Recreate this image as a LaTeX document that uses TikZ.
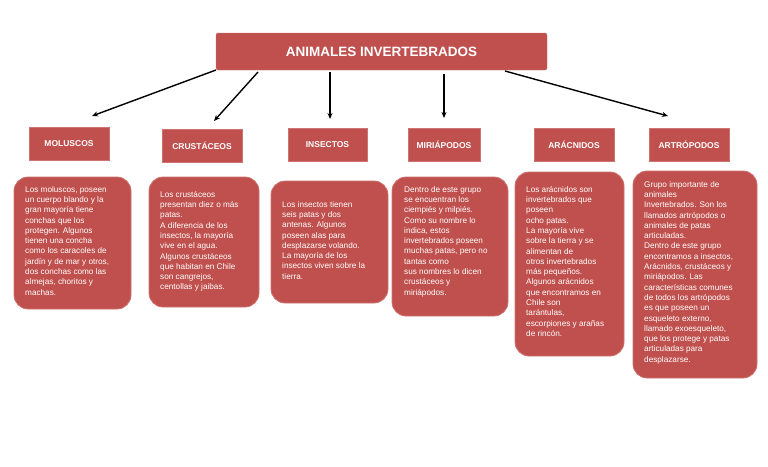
\documentclass[tikz,border=0pt]{standalone}
\usepackage{fontspec}
\setmainfont{Liberation Sans}
\usetikzlibrary{arrows.meta}
\definecolor{rbox}{HTML}{C0504D}
\begin{document}
\begin{tikzpicture}[x=1pt,y=-1pt,
  hdr/.style={fill=rbox,draw=rbox!80!white,line width=0.8pt,text=white,font=\bfseries\fontsize{8.5}{10}\selectfont,inner sep=0pt},
  body/.style={fill=rbox,draw=rbox!80!white,line width=0.8pt,rounded corners=14pt,text=white,font=\fontsize{8.2}{10.3}\selectfont,inner sep=0pt},
  arr/.style={-{Stealth[length=6pt,width=5pt]},line width=1.4pt}]
\useasboundingbox (0,0) rectangle (768,466);
\node[fill=rbox,draw=rbox!80!white,rounded corners=2pt,text=white,font=\bfseries\fontsize{13.5}{16}\selectfont,minimum width=331pt,minimum height=37pt] (title) at (381.5,51.5) {ANIMALES INVERTEBRADOS};
\node[hdr,minimum width=80pt,minimum height=33pt] (h1) at (69,143.5) {MOLUSCOS};
\node[hdr,minimum width=80pt,minimum height=33pt] (h2) at (202,145.5) {CRUSTÁCEOS};
\node[hdr,minimum width=79pt,minimum height=33pt] (h3) at (327.5,144.5) {INSECTOS};
\node[hdr,minimum width=72pt,minimum height=33pt] (h4) at (444,144.5) {MIRIÁPODOS};
\node[hdr,minimum width=80pt,minimum height=33pt] (h5) at (574,144.5) {ARÁCNIDOS};
\node[hdr,minimum width=80pt,minimum height=33pt] (h6) at (689,144.5) {ARTRÓPODOS};
\coordinate (a1) at (216,70); \coordinate (b1) at (92,116);
\coordinate (a2) at (258,72); \coordinate (b2) at (214,121);
\coordinate (a3) at (330,72); \coordinate (b3) at (330,119);
\coordinate (a4) at (444,74); \coordinate (b4) at (444,118);
\coordinate (a5) at (505,71); \coordinate (b5) at (668,116);
\foreach \i in {1,...,5} \draw[arr] (a\i) -- (b\i);
\node[body,minimum width=117pt,minimum height=132pt] (c1) at (72.5,243) {};
\node[anchor=north west,align=left,text=white,font=\fontsize{8.2}{10.3}\selectfont,inner sep=0pt] at (25,186) {Los moluscos, poseen\\un cuerpo blando y la\\gran mayoría tiene\\conchas que los\\protegen. Algunos\\tienen una concha\\como los caracoles de\\jardín y de mar y otros,\\dos conchas como las\\almejas, choritos y\\machas.};
\node[body,minimum width=110pt,minimum height=130pt] (c2) at (204,242) {};
\node[anchor=north west,align=left,text=white,font=\fontsize{8.2}{10.3}\selectfont,inner sep=0pt] at (160,191) {Los crustáceos\\presentan diez o más\\patas.\\A diferencia de los\\insectos, la mayoría\\vive en el agua.\\Algunos crustáceos\\que habitan en Chile\\son cangrejos,\\centollas y jaibas.};
\node[body,minimum width=117pt,minimum height=122pt] (c3) at (329.5,242) {};
\node[anchor=north west,align=left,text=white,font=\fontsize{8.2}{10.3}\selectfont,inner sep=0pt] at (282,201) {Los insectos tienen\\seis patas y dos\\antenas. Algunos\\poseen alas para\\desplazarse volando.\\La mayoría de los\\insectos viven sobre la\\tierra.};
\node[body,minimum width=116pt,minimum height=139pt] (c4) at (450,246.5) {};
\node[anchor=north west,align=left,text=white,font=\fontsize{8.2}{10.3}\selectfont,inner sep=0pt] at (404,186) {Dentro de este grupo\\se encuentran los\\ciempiés y milpiés.\\Como su nombre lo\\indica, estos\\invertebrados poseen\\muchas patas, pero no\\tantas como\\sus nombres lo dicen\\crustáceos y\\miriápodos.};
\node[body,minimum width=109pt,minimum height=184pt] (c5) at (569.5,264) {};
\node[anchor=north west,align=left,text=white,font=\fontsize{8.2}{10.3}\selectfont,inner sep=0pt] at (526,186) {Los arácnidos son\\invertebrados que\\poseen\\ocho patas.\\La mayoría vive\\sobre la tierra y se\\alimentan de\\otros invertebrados\\más pequeños.\\Algunos arácnidos\\que encontramos en\\Chile son\\tarántulas,\\escorpiones y arañas\\de rincón.};
\node[body,minimum width=124pt,minimum height=207pt] (c6) at (695,274.5) {};
\node[anchor=north west,align=left,text=white,font=\fontsize{8.2}{10.3}\selectfont,inner sep=0pt] at (644,181) {Grupo importante de\\animales\\Invertebrados. Son los\\llamados artrópodos o\\animales de patas\\articuladas.\\Dentro de este grupo\\encontramos a insectos,\\Arácnidos, crustáceos y\\miriápodos. Las\\características comunes\\de todos los artrópodos\\es que poseen un\\esqueleto externo,\\llamado exoesqueleto,\\que los protege y patas\\articuladas para\\desplazarse.};
\end{tikzpicture}
\end{document}
